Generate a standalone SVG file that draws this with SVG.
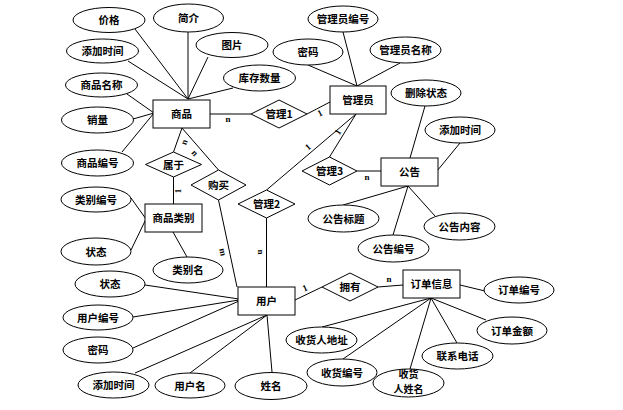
<svg xmlns="http://www.w3.org/2000/svg" width="623" height="410" viewBox="0 0 623 410">
<style>
.e{fill:#fff;stroke:#000;stroke-width:1}
.t{font-family:"Noto Sans CJK SC","Noto Sans",sans-serif;font-size:10.5px;font-weight:bold;text-anchor:middle;fill:#000}
.c line{stroke:#000;stroke-width:1}
.l{font-family:"Liberation Serif",serif;font-size:9px;font-weight:bold;text-anchor:middle;fill:#000}
</style>
<rect width="623" height="410" fill="#fff"/>
<g class="c" id="connectors">
<line x1="135" y1="29" x2="188" y2="99"/>
<line x1="188" y1="32" x2="188" y2="99"/>
<line x1="128" y1="61" x2="188" y2="99"/>
<line x1="208" y1="57" x2="188" y2="99"/>
<line x1="233" y1="88" x2="188" y2="99"/>
<line x1="127" y1="94" x2="154" y2="113"/>
<line x1="133" y1="119" x2="154" y2="113"/>
<line x1="122" y1="152" x2="154" y2="113"/>
<line x1="343" y1="32" x2="357" y2="86"/>
<line x1="308" y1="65" x2="357" y2="86"/>
<line x1="400" y1="63" x2="357" y2="86"/>
<line x1="425" y1="106" x2="410" y2="158"/>
<line x1="460" y1="143" x2="437" y2="171"/>
<line x1="343" y1="205" x2="408" y2="186"/>
<line x1="393" y1="235" x2="408" y2="186"/>
<line x1="435" y1="216" x2="408" y2="186"/>
<line x1="131" y1="198" x2="146" y2="219"/>
<line x1="131" y1="250" x2="146" y2="219"/>
<line x1="173" y1="232" x2="187" y2="257"/>
<line x1="145" y1="285" x2="239" y2="299"/>
<line x1="133" y1="317" x2="239" y2="300"/>
<line x1="133" y1="348" x2="239" y2="301"/>
<line x1="135" y1="373" x2="267" y2="315"/>
<line x1="190" y1="373" x2="267" y2="315"/>
<line x1="272" y1="372" x2="267" y2="315"/>
<line x1="460" y1="285" x2="485" y2="291"/>
<line x1="322" y1="327" x2="431" y2="298"/>
<line x1="343" y1="359" x2="431" y2="298"/>
<line x1="410" y1="369" x2="431" y2="298"/>
<line x1="457" y1="343" x2="431" y2="298"/>
<line x1="486" y1="320" x2="431" y2="298"/>
<line x1="210" y1="114" x2="251" y2="114"/>
<line x1="307" y1="114" x2="330" y2="102"/>
<line x1="182" y1="128" x2="173.5" y2="152"/>
<line x1="173.5" y1="177" x2="173.5" y2="204"/>
<line x1="182" y1="128" x2="218.5" y2="170"/>
<line x1="218.5" y1="200" x2="237" y2="287"/>
<line x1="356" y1="114" x2="266.5" y2="190"/>
<line x1="356" y1="114" x2="329.5" y2="157"/>
<line x1="266.5" y1="218" x2="266.5" y2="287"/>
<line x1="357" y1="171" x2="381" y2="171"/>
<line x1="295" y1="300" x2="322" y2="287"/>
<line x1="378" y1="287" x2="403" y2="285"/>
<text class="l" x="228" y="122">n</text>
<text class="l" transform="translate(184,142) rotate(-70)" y="3">n</text>
<text class="l" transform="translate(195,153) rotate(49)" y="3">n</text>
<text class="l" transform="translate(178,191) rotate(-90)" y="3">1</text>
<text class="l" transform="translate(223,252) rotate(78)" y="3">m</text>
<text class="l" transform="translate(261,252) rotate(90)" y="3">n</text>
<text class="l" transform="translate(320,113) rotate(-27)" y="3">1</text>
<text class="l" transform="translate(338,132) rotate(-58)" y="3">1</text>
<text class="l" transform="translate(308,147) rotate(-41)" y="3">1</text>
<text class="l" x="367" y="180">n</text>
<text class="l" transform="translate(305,288) rotate(-26)" y="3">1</text>
<text class="l" x="389" y="282">n</text>
</g>
<g id="n-shangpin"><rect class="e" x="153" y="100" width="57" height="28"/><text class="t" x="181.5" y="118">商品</text></g>
<g id="n-guanliyuan"><rect class="e" x="330" y="86" width="56" height="28"/><text class="t" x="358" y="104">管理员</text></g>
<g id="n-gonggao"><rect class="e" x="381" y="158" width="57" height="28"/><text class="t" x="409.5" y="176">公告</text></g>
<g id="n-leibie"><rect class="e" x="145" y="204" width="57" height="28"/><text class="t" x="173.5" y="222">商品类别</text></g>
<g id="n-yonghu"><rect class="e" x="238" y="287" width="57" height="28"/><text class="t" x="266.5" y="305">用户</text></g>
<g id="n-dingdan"><rect class="e" x="403" y="270" width="57" height="28"/><text class="t" x="431.5" y="288">订单信息</text></g>
<g id="r-guanli1"><polygon class="e" points="251,114 279,100 307,114 279,128"/><text class="t" x="279" y="118">管理1</text></g>
<g id="r-shuyu"><polygon class="e" points="145.5,164.5 173.5,152 201.5,164.5 173.5,177"/><text class="t" x="173.5" y="168.5">属于</text></g>
<g id="r-goumai"><polygon class="e" points="191,185 218.5,170 246,185 218.5,200"/><text class="t" x="218.5" y="189">购买</text></g>
<g id="r-guanli2"><polygon class="e" points="238,204 266.5,190 295,204 266.5,218"/><text class="t" x="266.5" y="208">管理2</text></g>
<g id="r-guanli3"><polygon class="e" points="302,171 329.5,157 357,171 329.5,185"/><text class="t" x="329.5" y="175">管理3</text></g>
<g id="r-yongyou"><polygon class="e" points="322,287 350,273 378,287 350,301"/><text class="t" x="350" y="291">拥有</text></g>
<g id="a-jiage"><ellipse class="e" cx="109" cy="20" rx="36" ry="12.5"/><text class="t" x="109" y="24">价格</text></g>
<g id="a-jianjie"><ellipse class="e" cx="188.5" cy="18" rx="35" ry="14"/><text class="t" x="188.5" y="22">简介</text></g>
<g id="a-sp-tianjia"><ellipse class="e" cx="102.5" cy="51" rx="36" ry="12"/><text class="t" x="102.5" y="55">添加时间</text></g>
<g id="a-tupian"><ellipse class="e" cx="232" cy="45" rx="36" ry="12.5"/><text class="t" x="232" y="49">图片</text></g>
<g id="a-kucun"><ellipse class="e" cx="259.5" cy="78" rx="36" ry="13"/><text class="t" x="259.5" y="82">库存数量</text></g>
<g id="a-spmc"><ellipse class="e" cx="101.5" cy="85" rx="36" ry="12"/><text class="t" x="101.5" y="89">商品名称</text></g>
<g id="a-xiaoliang"><ellipse class="e" cx="97.5" cy="120" rx="36" ry="13"/><text class="t" x="97.5" y="124">销量</text></g>
<g id="a-spbh"><ellipse class="e" cx="97.5" cy="163" rx="36" ry="13"/><text class="t" x="97.5" y="167">商品编号</text></g>
<g id="a-glybh"><ellipse class="e" cx="343" cy="19" rx="35" ry="13"/><text class="t" x="343" y="23">管理员编号</text></g>
<g id="a-gly-mima"><ellipse class="e" cx="308" cy="52" rx="35" ry="13"/><text class="t" x="308" y="56">密码</text></g>
<g id="a-glymc"><ellipse class="e" cx="405.5" cy="50" rx="35.5" ry="13"/><text class="t" x="405.5" y="54">管理员名称</text></g>
<g id="a-shanchu"><ellipse class="e" cx="426" cy="93" rx="35" ry="13"/><text class="t" x="426" y="97">删除状态</text></g>
<g id="a-gg-tianjia"><ellipse class="e" cx="460" cy="130" rx="35" ry="13"/><text class="t" x="460" y="134">添加时间</text></g>
<g id="a-ggbt"><ellipse class="e" cx="343.5" cy="218.5" rx="35.5" ry="13.5"/><text class="t" x="343.5" y="222.5">公告标题</text></g>
<g id="a-ggbh"><ellipse class="e" cx="393.5" cy="248.5" rx="35.5" ry="13.5"/><text class="t" x="393.5" y="252.5">公告编号</text></g>
<g id="a-ggnr"><ellipse class="e" cx="459.5" cy="226.5" rx="35.5" ry="13.5"/><text class="t" x="459.5" y="230.5">公告内容</text></g>
<g id="a-lbbh"><ellipse class="e" cx="96" cy="199.5" rx="35" ry="12.5"/><text class="t" x="96" y="203.5">类别编号</text></g>
<g id="a-lb-zhuangtai"><ellipse class="e" cx="96" cy="251.5" rx="35" ry="13.5"/><text class="t" x="96" y="255.5">状态</text></g>
<g id="a-lbm"><ellipse class="e" cx="188" cy="270" rx="35" ry="13"/><text class="t" x="188" y="274">类别名</text></g>
<g id="a-yh-zhuangtai"><ellipse class="e" cx="110" cy="284" rx="35" ry="13"/><text class="t" x="110" y="288">状态</text></g>
<g id="a-yhbh"><ellipse class="e" cx="98" cy="317.5" rx="35" ry="12.5"/><text class="t" x="98" y="321.5">用户编号</text></g>
<g id="a-yh-mima"><ellipse class="e" cx="98" cy="350" rx="35" ry="13"/><text class="t" x="98" y="354">密码</text></g>
<g id="a-yh-tianjia"><ellipse class="e" cx="113.5" cy="385" rx="35.5" ry="13"/><text class="t" x="113.5" y="389">添加时间</text></g>
<g id="a-yhm"><ellipse class="e" cx="190" cy="385.5" rx="35" ry="12.5"/><text class="t" x="190" y="389.5">用户名</text></g>
<g id="a-xingming"><ellipse class="e" cx="271" cy="386" rx="36" ry="13.5"/><text class="t" x="271" y="390">姓名</text></g>
<g id="a-ddbh"><ellipse class="e" cx="519" cy="290" rx="35" ry="13"/><text class="t" x="519" y="294">订单编号</text></g>
<g id="a-shrdz"><ellipse class="e" cx="321.5" cy="340" rx="35.5" ry="13"/><text class="t" x="321.5" y="344">收货人地址</text></g>
<g id="a-shbh"><ellipse class="e" cx="342" cy="372.5" rx="35" ry="13.5"/><text class="t" x="342" y="376.5">收货编号</text></g>
<g id="a-shrxm"><ellipse class="e" cx="408.5" cy="383" rx="35.5" ry="14"/><text class="t" x="408.5" y="378" style="font-size:10px">收货</text><text class="t" x="408.5" y="393" style="font-size:10px">人姓名</text></g>
<g id="a-lxdh"><ellipse class="e" cx="457.5" cy="356" rx="35.5" ry="13"/><text class="t" x="457.5" y="360">联系电话</text></g>
<g id="a-ddje"><ellipse class="e" cx="512" cy="330.5" rx="35" ry="13.5"/><text class="t" x="512" y="334.5">订单金额</text></g>
</svg>
